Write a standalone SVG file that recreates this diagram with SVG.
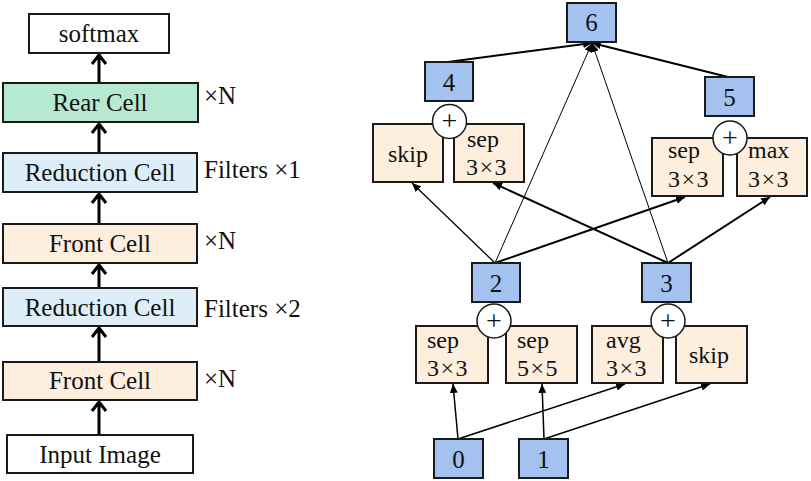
<svg xmlns="http://www.w3.org/2000/svg" width="811" height="481" viewBox="0 0 811 481">
<defs>
<style>
text{font-family:"Liberation Serif","Times New Roman",serif;fill:#111}
.box{stroke:#1a1a1a;stroke-width:2}
.white{fill:#ffffff}
.green{fill:#b6e8d2}
.lblue{fill:#ddeef9}
.peach{fill:#fdeedd}
.blue{fill:#a3c2ef}
.lt{font-size:25px;text-anchor:middle}
.side{font-size:25px}
.num{font-size:25px;text-anchor:middle}
.op{font-size:24px}
.x{letter-spacing:1.5px}
.plus{fill:#fff;stroke:#1a1a1a;stroke-width:1.5}
.pt{font-size:28px;text-anchor:middle}
.up{stroke:#000;stroke-width:3;fill:none}
.c1{stroke:#000;stroke-width:1;fill:none}
.c13{stroke:#000;stroke-width:1.3;fill:none}
.c15{stroke:#000;stroke-width:1.5;fill:none}
.c2{stroke:#000;stroke-width:2;fill:none}
</style>
<marker id="ah" markerUnits="userSpaceOnUse" markerWidth="10" markerHeight="8" refX="9" refY="4" orient="auto">
<path d="M0,0 L9,4 L0,8 Z" fill="#000"/>
</marker>
</defs>

<g id="connectors">
<!-- left column -->
<path class="up" d="M99,83 V55 M92,64 L99,55 L106,64"/>
<path class="up" d="M99,153 V124 M92,133 L99,124 L106,133"/>
<path class="up" d="M99,224 V194 M92,203 L99,194 L106,203"/>
<path class="up" d="M99,288 V265 M92,274 L99,265 L106,274"/>
<path class="up" d="M99,362 V328 M92,337 L99,328 L106,337"/>
<path class="up" d="M99,435 V402 M92,411 L99,402 L106,411"/>
<!-- right graph -->
<line class="c15" x1="458" y1="439" x2="453" y2="384" marker-end="url(#ah)"/>
<line class="c15" x1="458" y1="439" x2="625" y2="384" marker-end="url(#ah)"/>
<line class="c15" x1="544" y1="439" x2="542" y2="384" marker-end="url(#ah)"/>
<line class="c15" x1="544" y1="439" x2="710" y2="384" marker-end="url(#ah)"/>
<line class="c13" x1="495" y1="263" x2="412" y2="183" marker-end="url(#ah)"/>
<line class="c1" x1="495" y1="263" x2="592" y2="43" marker-end="url(#ah)"/>
<line class="c2" x1="495" y1="263" x2="685" y2="197" marker-end="url(#ah)"/>
<line class="c2" x1="668" y1="263" x2="493" y2="183" marker-end="url(#ah)"/>
<line class="c1" x1="668" y1="263" x2="592" y2="43" marker-end="url(#ah)"/>
<line class="c2" x1="668" y1="263" x2="770" y2="197" marker-end="url(#ah)"/>
<line class="c2" x1="448" y1="62" x2="592" y2="43" marker-end="url(#ah)"/>
<line class="c2" x1="728" y1="77" x2="592" y2="43" marker-end="url(#ah)"/>
</g>

<g id="softmax"><rect class="box white" x="29" y="14" width="140" height="39"/><text class="lt" x="99" y="42">softmax</text></g>
<g id="rear-cell"><rect class="box green" x="3" y="83" width="195" height="39"/><text class="lt" x="100" y="111">Rear Cell</text></g>
<g id="reduction-cell-1"><rect class="box lblue" x="3" y="153" width="194" height="39"/><text class="lt" x="100" y="181">Reduction Cell</text></g>
<g id="front-cell-1"><rect class="box peach" x="3" y="224" width="194" height="39"/><text class="lt" x="100" y="252">Front Cell</text></g>
<g id="reduction-cell-2"><rect class="box lblue" x="3" y="288" width="194" height="38"/><text class="lt" x="100" y="316">Reduction Cell</text></g>
<g id="front-cell-2"><rect class="box peach" x="3" y="362" width="194" height="38"/><text class="lt" x="100" y="389">Front Cell</text></g>
<g id="input-image"><rect class="box white" x="7" y="435" width="186" height="38"/><text class="lt" x="100" y="463">Input Image</text></g>

<g id="side-labels">
<text class="side" x="204" y="104">×N</text>
<text class="side" x="204" y="178">Filters ×1</text>
<text class="side" x="204" y="249">×N</text>
<text class="side" x="204" y="317">Filters ×2</text>
<text class="side" x="204" y="387">×N</text>
</g>

<g id="node-6"><rect class="box blue" x="567" y="3" width="49" height="39"/><text class="num" x="591.5" y="31">6</text></g>
<g id="op-skip-4"><rect class="box peach" x="373" y="124" width="70" height="58"/><text class="op" x="388" y="162">skip</text></g>
<g id="op-sep-4"><rect class="box peach" x="454" y="124" width="70" height="58"/><text class="op" x="467" y="147">sep</text><text class="op x" x="466" y="175">3×3</text></g>
<g id="node-4"><rect class="box blue" x="425" y="62" width="48" height="39"/><text class="num" x="449" y="91">4</text><circle class="plus" cx="449.5" cy="121.5" r="17"/><text class="pt" x="449.5" y="130">+</text></g>
<g id="op-sep-5"><rect class="box peach" x="652" y="138" width="71" height="58"/><text class="op" x="668" y="158">sep</text><text class="op x" x="668" y="187">3×3</text></g>
<g id="op-max-5"><rect class="box peach" x="737" y="138" width="70" height="58"/><text class="op" x="748" y="158">max</text><text class="op x" x="748" y="187">3×3</text></g>
<g id="node-5"><rect class="box blue" x="705" y="77" width="49" height="39"/><text class="num" x="729.5" y="106">5</text><circle class="plus" cx="730" cy="138" r="17"/><text class="pt" x="730" y="146.5">+</text></g>
<g id="op-sep-2a"><rect class="box peach" x="416" y="326" width="72" height="57"/><text class="op" x="427" y="348">sep</text><text class="op x" x="427" y="376">3×3</text></g>
<g id="op-sep-2b"><rect class="box peach" x="506" y="326" width="71" height="57"/><text class="op" x="517" y="348">sep</text><text class="op x" x="517" y="376">5×5</text></g>
<g id="node-2"><rect class="box blue" x="472" y="263" width="48" height="39"/><text class="num" x="496" y="292">2</text><circle class="plus" cx="494" cy="321" r="17"/><text class="pt" x="494" y="329.5">+</text></g>
<g id="op-avg-3"><rect class="box peach" x="592" y="326" width="71" height="57"/><text class="op" x="606" y="348">avg</text><text class="op x" x="606" y="376">3×3</text></g>
<g id="op-skip-3"><rect class="box peach" x="676" y="326" width="71" height="57"/><text class="op" x="689" y="363">skip</text></g>
<g id="node-3"><rect class="box blue" x="642" y="263" width="49" height="39"/><text class="num" x="666.5" y="292">3</text><circle class="plus" cx="668" cy="321" r="17"/><text class="pt" x="668" y="329.5">+</text></g>
<g id="node-0"><rect class="box blue" x="434" y="439" width="49" height="39"/><text class="num" x="458.5" y="468">0</text></g>
<g id="node-1"><rect class="box blue" x="519" y="439" width="49" height="39"/><text class="num" x="543.5" y="468">1</text></g>
</svg>
